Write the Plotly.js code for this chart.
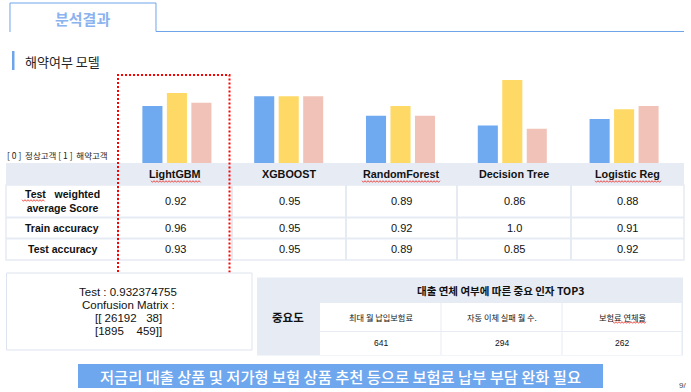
<!DOCTYPE html>
<html><head><meta charset="utf-8">
<script src="https://cdn.plot.ly/plotly-3.0.1.min.js"></script>
<style>html,body{margin:0;padding:0;background:#fff;}#chart{width:691px;height:392px;}</style>
</head><body><div id="chart"></div>
<script>
// ---- data ----
const models = ['LightGBM', 'XGBOOST', 'RandomForest', 'Decision Tree', 'Logistic Reg'];
const weightedScore = [0.92, 0.95, 0.89, 0.86, 0.88];
const trainAccuracy = [0.96, 0.95, 0.92, 1.0, 0.91];
const testAccuracy = [0.93, 0.95, 0.89, 0.85, 0.92];
const rowLabels = ['Test\u00A0\u00A0 weighted<br>average Score', 'Train accuracy', 'Test accuracy'];
const legendText = '[ 0 ]  정상고객 [ 1 ]  해약고객';
const testScore = '0.932374755';
const confusionMatrix = [[26192, 38], [1895, 459]];
const top3Title = '대출 연체 여부에 따른 중요 인자 TOP3';
const factorNames = ['최대 월 납입보험료', '자동 이체 실패 월 수.', '보험료 연체율'];
const factorImportance = [641, 294, 262];
const sectionTab = '분석결과';
const sectionTitle = '해약여부 모델';
const conclusion = '저금리 대출 상품 및 저가형 보험 상품 추천 등으로 보험료 납부 부담 완화 필요';
const pageNo = '9/';

// ---- geometry helpers (pixel -> paper) ----
const L = 121, W = 559, T = 70, B = 163, H = B - T;
const X = x => (x - L) / W;
const Y = y => (B - y) / H;
const FONT = 'Liberation Sans, Arial, Noto Sans CJK KR, sans-serif';
const KFONT = 'Noto Sans CJK KR, Liberation Sans, sans-serif';
const shapes = [], annotations = [];
function rect(x0, y0, x1, y1, fill, lineColor, lw, dash) {
  shapes.push({type: 'rect', xref: 'paper', yref: 'paper', x0: X(x0), x1: X(x1), y0: Y(y1), y1: Y(y0),
    fillcolor: fill || 'rgba(0,0,0,0)', line: {color: lineColor || 'rgba(0,0,0,0)', width: lw || 0, dash: dash || 'solid'}});
}
function seg(x0, y0, x1, y1, color, lw, dash) {
  shapes.push({type: 'line', xref: 'paper', yref: 'paper', x0: X(x0), x1: X(x1), y0: Y(y0), y1: Y(y1),
    line: {color: color, width: lw, dash: dash || 'solid'}});
}
function path(pts, color, lw) {
  let d = pts.map((p, i) => (i ? 'L' : 'M') + X(p[0]).toFixed(5) + ',' + Y(p[1]).toFixed(5)).join(' ');
  shapes.push({type: 'path', xref: 'paper', yref: 'paper', path: d, line: {color: color, width: lw}});
}
function squiggle(x0, x1, y) {
  const pts = []; let up = true;
  for (let x = x0; x <= x1; x += 1.5) { pts.push([x, y + (up ? -0.8 : 0.8)]); up = !up; }
  path(pts, '#e8231b', 0.8);
}
function txt(x, y, text, size, opts) {
  opts = opts || {};
  annotations.push({xref: 'paper', yref: 'paper', x: X(x), y: Y(y), text: text, showarrow: false,
    xanchor: opts.xanchor || 'center', yanchor: 'middle', align: opts.align || 'center',
    font: {size: size, color: opts.color || '#111', family: opts.family || FONT, weight: opts.weight || 'normal'}});
}
const fmt = v => (String(v).indexOf('.') >= 0 ? String(v) : v.toFixed(1));

// ---- page decoration ----
path([[10, 32], [10, 3], [156, 3], [156, 31.5], [684, 31.5]], '#6ea4e8', 1);
txt(82, 18, '<b>' + sectionTab + '</b>', 15, {color: '#8ab3ef', family: KFONT});
rect(12, 51, 14.5, 70, '#6ea4e8');
txt(23, 61, sectionTitle, 13, {xanchor: 'left', color: '#222', family: KFONT});
txt(5, 155, legendText, 8.5, {xanchor: 'left', color: '#222', family: KFONT});

// ---- metrics table ----
const colBounds = [6, 118, 232, 346, 457, 571, 684];
const rowBounds = [185, 217.5, 238.5, 260];
rect(6, 163, 684, 185, '#e7ebf4');
rect(6, 185, 684, 260, '#ffffff', '#e6ebf3', 1.5);
for (let i = 1; i < rowBounds.length - 1; i++) seg(6, rowBounds[i], 684, rowBounds[i], '#e6ebf3', 2);
for (let j = 1; j < colBounds.length - 1; j++) seg(colBounds[j], 185, colBounds[j], 260, '#e6ebf3', 2);
models.forEach((m, j) => {
  const cx = (colBounds[j + 1] + colBounds[j + 2]) / 2;
  txt(cx, 174, '<b>' + m + '</b>', 10.8);
  const rows = [weightedScore, trainAccuracy, testAccuracy];
  rows.forEach((r, i) => txt(cx, (rowBounds[i] + rowBounds[i + 1]) / 2, fmt(r[j]), 11));
});
rowLabels.forEach((lab, i) => txt(62, (rowBounds[i] + rowBounds[i + 1]) / 2, '<b>' + lab + '</b>', 10.5));
squiggle(151, 201, 181.5); squiggle(362, 440, 181.5); squiggle(595, 661, 181.5); squiggle(22, 45, 200.5);

// highlight box
shapes.push({type: 'rect', xref: 'paper', yref: 'paper', x0: X(118), x1: X(229.5), y0: Y(281), y1: Y(75),
  line: {color: '#ff0000', width: 2, dash: '2px,2px'}});

// ---- confusion box ----
rect(6.5, 273, 252, 350, '#ffffff', '#dde4ef', 1);
const cmLines = [
  'Test : ' + testScore,
  'Confusion Matrix :',
  '[[ ' + confusionMatrix[0][0] + '\u00A0\u00A0 ' + confusionMatrix[0][1] + ']',
  '[' + confusionMatrix[1][0] + '\u00A0\u00A0\u00A0 ' + confusionMatrix[1][1] + ']]'
];
[291.5, 305, 317.5, 330.5].forEach((y, i) => txt(128, y, cmLines[i], 11.5, {color: '#111'}));

// ---- top3 box ----
rect(257, 277.5, 683, 355.5, '#e6ebf4');
const fBounds = [320, 441, 562, 682];
for (let j = 0; j < 3; j++) {
  rect(fBounds[j] + (j ? 0.5 : 0), 303, fBounds[j + 1] - 0.5, 331, '#ffffff');
  rect(fBounds[j] + (j ? 0.5 : 0), 332, fBounds[j + 1] - 0.5, 355, '#ffffff');
  const cx = (fBounds[j] + fBounds[j + 1]) / 2;
  txt(cx, 317, factorNames[j], 8.2, {family: KFONT});
  txt(cx, 342.5, String(factorImportance[j]), 8.5);
}
txt(500, 290, '<b>' + top3Title + '</b>', 10.5, {family: KFONT});
txt(287.5, 317, '<b>중요도</b>', 11.5, {family: KFONT});
squiggle(613, 646, 322.5);

// ---- conclusion banner ----
rect(78, 364, 603, 388, '#6ea7ee');
txt(340.5, 376, conclusion, 15.3, {color: '#ffffff', family: KFONT, weight: 500});
txt(688, 385, pageNo, 8, {xanchor: 'right', color: '#444'});

// ---- bars ----
const colors = ['#6fa9ef', '#fed966', '#f1c3b8'];
const series = [weightedScore, trainAccuracy, testAccuracy];
const names = ['Test weighted average Score', 'Train accuracy', 'Test accuracy'];
const data = series.map((s, i) => ({type: 'bar', x: models, y: s, name: names[i],
  marker: {color: colors[i], line: {width: 0}}, hoverinfo: 'skip'}));

const layout = {
  width: 691, height: 392, margin: {l: L, r: 691 - L - W, t: T, b: 392 - B, pad: 0},
  paper_bgcolor: '#ffffff', plot_bgcolor: 'rgba(0,0,0,0)', showlegend: false,
  barmode: 'group', bargap: 0.343, bargroupgap: 0.18,
  font: {family: FONT},
  xaxis: {type: 'category', range: [-0.5, 4.5], visible: false, fixedrange: true},
  yaxis: {range: [0.7446, 0.7446 + H / 325], visible: false, fixedrange: true},
  shapes: shapes, annotations: annotations
};
Plotly.newPlot('chart', data, layout, {displayModeBar: false, staticPlot: true});
</script></body></html>
